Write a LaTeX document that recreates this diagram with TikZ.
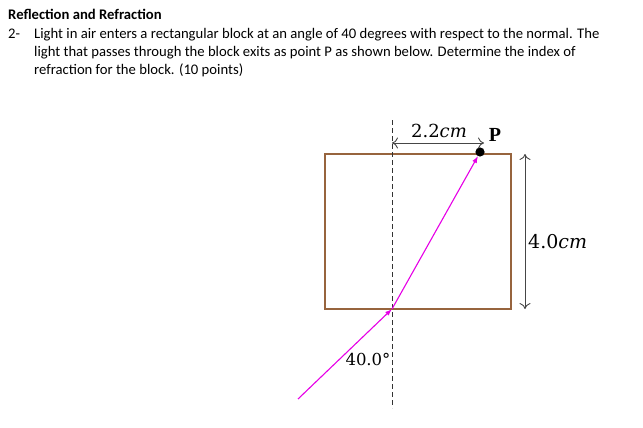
\documentclass[tikz,border=0pt]{standalone}
\usepackage{fontspec}
\setmainfont{Carlito}
\newfontfamily\labelfont{DejaVu Serif}
\newfontfamily\pfont{Liberation Serif}
\usetikzlibrary{arrows.meta}
\definecolor{blockbrown}{RGB}{151,100,62}
\definecolor{raymag}{RGB}{230,0,230}
\definecolor{dimgray}{RGB}{70,70,70}
\tikzset{
  bodytext/.style={anchor=base west, inner sep=0pt, font=\fontsize{14.67}{18}\selectfont},
  blockline/.style={draw=blockbrown, line width=2.6pt},
  ray/.style={draw=raymag, line width=1.1pt, -{Latex[length=7pt,width=5pt]}},
  normalline/.style={draw=black!80, line width=1pt, dash pattern=on 5pt off 3pt},
  dimline/.style={draw=dimgray, line width=0.9pt, {To[length=6pt,width=11pt]}-{To[length=6pt,width=11pt]}},
  mathlabel/.style={inner sep=0pt}
}
\begin{document}
\begin{tikzpicture}[x=1pt,y=-1pt]
\useasboundingbox (0,0) rectangle (643,428);
% text
\node[bodytext, font=\fontsize{14.67}{18}\selectfont\bfseries] (title) at (8,20) {Reflection and Refraction};
\node[bodytext] (num) at (8,39) {2-};
\node[bodytext] (l1) at (34,39) {Light in air enters a rectangular block at an angle of 40 degrees with respect to the normal. The};
\node[bodytext] (l2) at (34,57) {light that passes through the block exits as point P as shown below. Determine the index of};
\node[bodytext] (l3) at (34,75) {refraction for the block. (10 points)};
% coordinates
\coordinate (E) at (392,309);
\coordinate (S) at (298,399);
\coordinate (X) at (478,156);
\coordinate (Ntop) at (392,120);
\coordinate (Nbot) at (392,408);
\coordinate (d1) at (392,143);
\coordinate (d2) at (484,143);
\coordinate (h1) at (525,154);
\coordinate (h2) at (525,309);
% block
\draw[blockline] (325,154) rectangle (511,309);
% normal
\draw[normalline] (Ntop) -- (Nbot);
% rays
\draw[ray] (S) -- (E);
\draw[ray] (E) -- (X);
\fill[black] (480,152) circle (4.6pt) coordinate (Pdot);
% dimensions
\draw[dimline] (d1) -- (d2);
\draw[dimline] (h1) -- (h2);
% labels
\node[mathlabel, anchor=base, font=\fontsize{18}{22}\labelfont] (w) at (439,137) {2.2\textit{cm}};
\node[mathlabel, anchor=base, font=\fontsize{20}{24}\pfont\bfseries] (P) at (495,141) {P};
\node[mathlabel, anchor=base west, font=\fontsize{19}{23}\labelfont] (h) at (528,248) {4.0\textit{cm}};
\node[mathlabel, anchor=base, font=\fontsize{16.5}{20}\labelfont] (ang) at (368,365) {40.0°};
\end{tikzpicture}
\end{document}
